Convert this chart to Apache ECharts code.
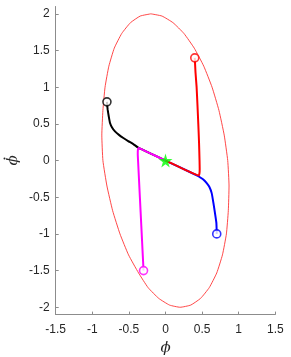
<!DOCTYPE html>
<html>
<head>
<meta charset="utf-8">
<script src="https://cdn.jsdelivr.net/npm/echarts@6/dist/echarts.min.js"></script>
<style>
html,body{margin:0;padding:0;background:#fff;}
#c{width:291px;height:357px;}
</style>
</head>
<body>
<div id="c"></div>
<script>
const xTicks = [-1.5, -1, -0.5, 0, 0.5, 1, 1.5];
const yTicks = [-2, -1.5, -1, -0.5, 0, 0.5, 1, 1.5, 2];

const ellipse = [
  [-0.2,2],[-0.049,1.970],[0.103,1.879],[0.252,1.732],[0.393,1.532],[0.523,1.286],
  [0.636,1.0],[0.730,0.684],[0.802,0.347],[0.85,0],[0.868,-0.347],[0.858,-0.684],
  [0.832,-1.0],[0.778,-1.286],[0.700,-1.532],[0.598,-1.732],[0.479,-1.879],[0.345,-1.970],
  [0.2,-2],[0.055,-1.970],[-0.092,-1.879],[-0.238,-1.732],[-0.368,-1.532],[-0.505,-1.286],
  [-0.622,-1.0],[-0.722,-0.684],[-0.800,-0.347],[-0.855,0],[-0.870,0.347],[-0.855,0.684],
  [-0.826,1.0],[-0.774,1.286],[-0.700,1.532],[-0.598,1.732],[-0.479,1.879],[-0.345,1.970],[-0.2,2]
];

const redTraj = [
  [0.40,1.40],[0.41,1.2],[0.425,1.0],[0.437,0.75],[0.448,0.5],[0.458,0.25],[0.465,0.0],
  [0.467,-0.12],[0.463,-0.18],[0.452,-0.208],[0.448,-0.212],[0.3,-0.141],[0.15,-0.07],[0,0]
];
const blueTraj = [
  [0.70,-1.00],[0.695,-0.85],[0.676,-0.717],[0.655,-0.58],[0.631,-0.444],[0.60,-0.36],
  [0.563,-0.307],[0.52,-0.262],[0.471,-0.228],[0.448,-0.212],[0.2,-0.094],[0,0]
];
const blackTraj = [
  [-0.80,0.80],[-0.795,0.74],[-0.79,0.694],[-0.775,0.60],[-0.758,0.512],[-0.73,0.45],
  [-0.69,0.397],[-0.636,0.35],[-0.576,0.307],[-0.51,0.265],[-0.44,0.225],[-0.372,0.175],[0,0]
];
const magentaTraj = [
  [-0.30,-1.50],[-0.32,-1.1],[-0.34,-0.7],[-0.36,-0.3],[-0.375,0.0],[-0.379,0.09],
  [-0.377,0.145],[-0.368,0.17],[-0.35,0.165],[-0.2,0.094],[0,0]
];
const startPoints = [
  {p:[0.40,1.40], c:'#ff0000'},
  {p:[0.70,-1.00], c:'#0000ff'},
  {p:[-0.80,0.80], c:'#000000'},
  {p:[-0.30,-1.50], c:'#ff00ff'}
];
const equilibrium = [[0,0]];

const starPath = 'path://M50,0 L61,35 L98,35 L68,57 L79,91 L50,70 L21,91 L32,57 L2,35 L39,35 Z';

function lineSeries(data, color, width, z) {
  return {type:'line', data:data, showSymbol:false, symbol:'none', smooth:0.15,
    lineStyle:{color:color, width:width}, z:z, silent:true, animation:false};
}

const series = [
  lineSeries(ellipse, '#ff3333', 0.9, 2),
  lineSeries(blueTraj, '#0000ff', 2, 3),
  lineSeries(blackTraj, '#000000', 2, 3),
  lineSeries(redTraj, '#ff0000', 2, 4),
  lineSeries(magentaTraj, '#ff00ff', 2, 4)
];
startPoints.forEach(s => {
  series.push({type:'scatter', data:[s.p], symbol:'circle', symbolSize:8,
    itemStyle:{color:'#ffffff', borderColor:s.c, borderWidth:1.6}, z:5, animation:false, silent:true});
});
series.push({type:'scatter', data:equilibrium, symbol:starPath, symbolSize:14,
  itemStyle:{color:'#00ff00'}, z:6, animation:false, silent:true});

const axisColor = '#8c8c8c';
const labelColor = '#262626';
const fontFam = 'Liberation Sans, Arial, sans-serif';

const chart = echarts.init(document.getElementById('c'), null, {renderer:'canvas'});
chart.setOption({
  animation:false,
  backgroundColor:'#ffffff',
  grid:{left:55.7, right:15.7, top:6.5, bottom:42.4, containLabel:false, outerBoundsMode:'none'},
  xAxis:{type:'value', min:-1.5, max:1.5, interval:0.5,
    axisLine:{show:true, onZero:false, lineStyle:{color:axisColor, width:1}},
    axisTick:{show:true, inside:true, length:3, lineStyle:{color:axisColor}},
    axisLabel:{color:labelColor, fontSize:12, fontFamily:fontFam, margin:9,
      formatter:v => String(v), customValues:xTicks},
    splitLine:{show:false},
    name:'ϕ', nameLocation:'middle', nameGap:26,
    nameTextStyle:{color:labelColor, fontSize:15, fontStyle:'italic', fontFamily:'DejaVu Serif, serif'}
  },
  yAxis:{type:'value', min:-2.1, max:2.1,
    axisLine:{show:true, onZero:false, lineStyle:{color:axisColor, width:1}},
    axisTick:{show:true, inside:true, length:3, lineStyle:{color:axisColor}, customValues:yTicks},
    axisLabel:{color:labelColor, fontSize:12, fontFamily:fontFam, margin:6,
      formatter:v => String(v), customValues:yTicks},
    splitLine:{show:false}
  },
  graphic:[
    {type:'text', x:13, y:160.5, rotation:Math.PI/2, silent:true,
      style:{text:'ϕ', fill:labelColor, font:'italic 15px "DejaVu Serif", serif', align:'center', verticalAlign:'middle'}},
    {type:'circle', shape:{cx:4.5, cy:158.5, r:1}, style:{fill:labelColor}, silent:true}
  ],
  series:series
});
</script>
</body>
</html>
